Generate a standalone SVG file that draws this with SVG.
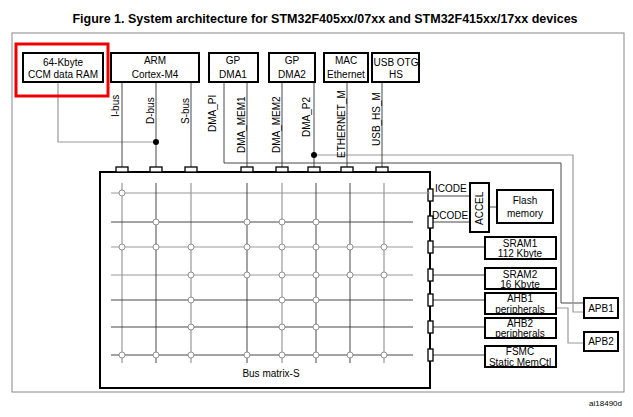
<svg xmlns="http://www.w3.org/2000/svg" width="633" height="417" viewBox="0 0 633 417">
<style>
text{font-family:"Liberation Sans",Arial,sans-serif;font-size:10px;fill:#000}
.b{fill:#fff;stroke:#000;stroke-width:2}
.p{fill:#fff;stroke:#000;stroke-width:1.3}
.g{stroke:#999;stroke-width:1.2;fill:none}
.k{stroke:#333;stroke-width:0.9;fill:none}
.d{fill:#fff;stroke:#777;stroke-width:0.8}
</style>
<rect width="633" height="417" fill="#fff"/>
<text x="325" y="23" text-anchor="middle" style="font-size:12.5px;font-weight:bold">Figure 1. System architecture for STM32F405xx/07xx and STM32F415xx/17xx devices</text>
<rect x="12" y="33" width="612" height="359" fill="none" stroke="#888" stroke-width="1"/>
<g id="connectors">
<path class="g" d="M58 82V142H156"/>
<path class="k" d="M122 82V168M156 82V168M191 82V168"/>
<path class="k" d="M224 82V163H561V303H584"/>
<path class="k" d="M247 82V168M282 82V168"/>
<path class="k" d="M314 82V168"/>
<path class="g" d="M314 155H573V312H584"/>
<path class="k" d="M347 82V168M382 82V168"/>
<circle cx="156" cy="142" r="3"/>
<circle cx="314" cy="155" r="3"/>
<path class="g" d="M557 308H568V343H584"/>
<path class="k" d="M433 196H470M433 222H470M489 207H497M433 247H485M433 275H485M433 300H485M433 327H485M433 355H485"/>
</g>
<g id="matrix">
<rect x="100" y="172" width="330" height="216" class="b"/>
<g class="p">
<rect x="116" y="167" width="12" height="5"/><rect x="150" y="167" width="12" height="5"/><rect x="185" y="167" width="12" height="5"/><rect x="241" y="167" width="12" height="5"/><rect x="276" y="167" width="12" height="5"/><rect x="308" y="167" width="12" height="5"/><rect x="341" y="167" width="12" height="5"/><rect x="376" y="167" width="12" height="5"/>
<rect x="428" y="189" width="5" height="12"/><rect x="428" y="216" width="5" height="12"/><rect x="428" y="241" width="5" height="12"/><rect x="428" y="269" width="5" height="12"/><rect x="428" y="294" width="5" height="12"/><rect x="428" y="321" width="5" height="12"/><rect x="428" y="349" width="5" height="12"/>
</g>
<g class="g">
<path d="M111 193H430M111 247H413M111 275H413"/>
<path d="M122 183V363M191 183V363M282 183V363M384 183V363"/>
</g>
<g class="k">
<path d="M111 222H413M111 300H413M111 327H413M111 355H413"/>
<path d="M156 183V363M247 183V363M316 183V363M350 183V363"/>
</g>
<g class="d">
<circle cx="122" cy="193" r="3"/>
<circle cx="156" cy="222" r="3"/><circle cx="247" cy="222" r="3"/><circle cx="282" cy="222" r="3"/><circle cx="316" cy="222" r="3"/>
<circle cx="122" cy="247" r="3"/><circle cx="156" cy="247" r="3"/><circle cx="191" cy="247" r="3"/><circle cx="247" cy="247" r="3"/><circle cx="282" cy="247" r="3"/><circle cx="316" cy="247" r="3"/><circle cx="350" cy="247" r="3"/><circle cx="384" cy="247" r="3"/>
<circle cx="191" cy="275" r="3"/><circle cx="247" cy="275" r="3"/><circle cx="282" cy="275" r="3"/><circle cx="316" cy="275" r="3"/><circle cx="350" cy="275" r="3"/><circle cx="384" cy="275" r="3"/>
<circle cx="191" cy="300" r="3"/><circle cx="282" cy="300" r="3"/><circle cx="316" cy="300" r="3"/>
<circle cx="191" cy="327" r="3"/><circle cx="282" cy="327" r="3"/><circle cx="316" cy="327" r="3"/>
<circle cx="122" cy="355" r="3"/><circle cx="156" cy="355" r="3"/><circle cx="191" cy="355" r="3"/><circle cx="247" cy="355" r="3"/><circle cx="282" cy="355" r="3"/><circle cx="316" cy="355" r="3"/><circle cx="350" cy="355" r="3"/><circle cx="384" cy="355" r="3"/>
</g>
<text x="271" y="377" text-anchor="middle">Bus matrix-S</text>
<text x="435" y="192">ICODE</text>
<text x="432" y="219">DCODE</text>
</g>
<g id="labels">
<text transform="translate(119 117) rotate(-90)">I-bus</text>
<text transform="translate(154 124) rotate(-90)">D-bus</text>
<text transform="translate(189 124) rotate(-90)">S-bus</text>
<text transform="translate(216 132) rotate(-90)">DMA_PI</text>
<text transform="translate(245 153) rotate(-90)">DMA_MEM1</text>
<text transform="translate(280 153) rotate(-90)">DMA_MEM2</text>
<text transform="translate(310 137) rotate(-90)">DMA_P2</text>
<text transform="translate(345 158) rotate(-90)">ETHERNET_M</text>
<text transform="translate(380 146) rotate(-90)">USB_HS_M</text>
</g>
<g id="ccm"><rect x="23" y="53" width="80" height="29" class="b"/><text x="63" y="66" text-anchor="middle">64-Kbyte</text><text x="63" y="78" text-anchor="middle">CCM data RAM</text>
<rect x="16" y="44" width="92" height="52" fill="none" stroke="#e00" stroke-width="3"/></g>
<g id="arm"><rect x="111" y="53" width="88" height="29" class="b"/><text x="155" y="64" text-anchor="middle">ARM</text><text x="155" y="78" text-anchor="middle">Cortex-M4</text></g>
<g id="dma1"><rect x="209" y="53" width="49" height="29" class="b"/><text x="233" y="64" text-anchor="middle">GP</text><text x="233" y="78" text-anchor="middle">DMA1</text></g>
<g id="dma2"><rect x="269" y="53" width="46" height="29" class="b"/><text x="292" y="64" text-anchor="middle">GP</text><text x="292" y="78" text-anchor="middle">DMA2</text></g>
<g id="mac"><rect x="324" y="53" width="44" height="29" class="b"/><text x="346" y="64" text-anchor="middle">MAC</text><text x="346" y="78" text-anchor="middle">Ethernet</text></g>
<g id="usb"><rect x="372" y="53" width="47" height="29" class="b"/><text x="396" y="66" text-anchor="middle">USB OTG</text><text x="396" y="78" text-anchor="middle">HS</text></g>
<g id="accel"><rect x="470" y="183" width="19" height="49" class="b"/><text transform="translate(483 225) rotate(-90)">ACCEL</text></g>
<g id="flash"><rect x="497" y="190" width="56" height="33" class="b"/><text x="525" y="204" text-anchor="middle">Flash</text><text x="525" y="217" text-anchor="middle">memory</text></g>
<g id="sram1"><rect x="485" y="237" width="71" height="22" class="b"/><text x="520" y="247" text-anchor="middle">SRAM1</text><text x="520" y="257" text-anchor="middle">112 Kbyte</text></g>
<g id="sram2"><rect x="485" y="268" width="71" height="21" class="b"/><text x="520" y="278" text-anchor="middle">SRAM2</text><text x="520" y="288" text-anchor="middle">16 Kbyte</text></g>
<g id="ahb1"><rect x="485" y="293" width="71" height="21" class="b"/><text x="520" y="302" text-anchor="middle">AHB1</text><text x="520" y="313" text-anchor="middle">peripherals</text></g>
<g id="ahb2"><rect x="485" y="318" width="71" height="20" class="b"/><text x="520" y="327" text-anchor="middle">AHB2</text><text x="520" y="337" text-anchor="middle">peripherals</text></g>
<g id="fsmc"><rect x="485" y="346" width="71" height="21" class="b"/><text x="520" y="355" text-anchor="middle">FSMC</text><text x="520" y="366" text-anchor="middle">Static MemCtl</text></g>
<g id="apb1"><rect x="584" y="298" width="34" height="20" class="b"/><text x="601" y="312" text-anchor="middle">APB1</text></g>
<g id="apb2"><rect x="584" y="332" width="34" height="19" class="b"/><text x="601" y="345" text-anchor="middle">APB2</text></g>
<text x="622" y="406" text-anchor="end" style="font-size:8px">ai18490d</text>
</svg>
